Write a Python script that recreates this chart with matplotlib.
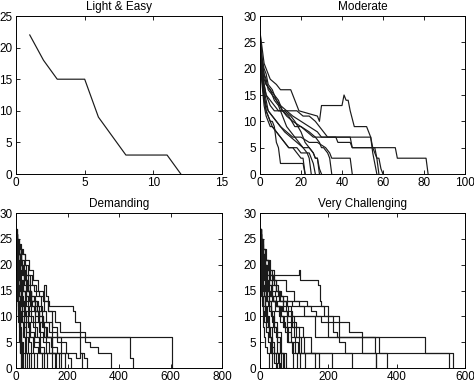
import matplotlib
matplotlib.use('Agg')
import matplotlib.pyplot as plt

###########################################################
# Data (remaining value vs. step)
###########################################################

light_x = [1, 2, 3, 4, 5, 6, 7, 8, 9, 10, 11, 12]
light_y = [22, 18, 15, 15, 15, 9, 6, 3, 3, 3, 3, 0]

moderate_x = [
    [0, 1, 2, 3, 4, 6, 8, 10, 13, 16, 20, 24, 28, 30, 37, 38, 44, 45, 66, 67, 81, 82],
    [0, 1, 2, 3, 5, 8, 10, 15, 16, 17, 19, 28, 29, 30, 40, 41, 42, 43, 44, 46, 52, 53, 54, 55, 56, 57, 58],
    [0, 1, 2, 3, 4, 6, 8, 11, 14, 17, 20, 23, 26, 30, 36, 44, 45, 56, 57, 58, 59, 60],
    [0, 1, 2, 3, 5, 7, 9, 12, 15, 18, 21, 24, 27, 33, 40, 45, 50, 54, 55, 56, 57],
    [0, 1, 2, 3, 4, 6, 8, 10, 13, 16, 20, 24, 28, 32, 34, 35, 36, 44, 45],
    [0, 1, 2, 3, 5, 7, 9, 11, 13, 16, 20, 24, 27, 29, 30, 31, 33, 34, 35],
    [0, 1, 2, 3, 4, 6, 8, 10, 12, 15, 18, 21, 24, 26, 27, 28, 29, 30],
    [0, 1, 2, 3, 4, 5, 7, 9, 12, 15, 17, 20, 22, 24, 26, 27, 28, 29],
    [0, 1, 2, 3, 4, 5, 6, 8, 10, 12, 14, 16, 18, 20, 22, 24, 25, 26, 27],
    [0, 1, 2, 3, 5, 7, 9, 11, 13, 15, 17, 19, 21, 23, 24, 25],
    [0, 1, 2, 3, 4, 5, 6, 7, 8, 9, 10, 14, 18, 21, 22],
    [0, 1, 2, 3, 4, 5, 6, 8, 10, 12, 14, 16, 18, 20, 21, 22],
]
moderate_y = [
    [26, 22, 20, 19, 17, 16, 14, 13, 12, 11, 10, 9, 8, 7, 7, 6, 6, 5, 5, 3, 3, 0],
    [27, 24, 21, 20, 18, 17, 16, 16, 15, 14, 12, 11, 10, 13, 13, 15, 14, 14, 12, 9, 9, 8, 7, 5, 4, 3, 0],
    [25, 21, 19, 18, 16, 15, 14, 12, 11, 9, 9, 8, 7, 7, 7, 7, 5, 5, 3, 3, 1, 0],
    [26, 20, 17, 15, 14, 13, 12, 12, 12, 12, 11, 11, 10, 7, 7, 7, 7, 7, 4, 2, 0],
    [24, 19, 16, 14, 12, 11, 10, 9, 8, 7, 7, 6, 6, 5, 4, 3, 3, 3, 0],
    [27, 22, 19, 17, 16, 15, 14, 12, 11, 10, 9, 8, 7, 6, 5, 5, 4, 3, 0],
    [23, 18, 15, 13, 12, 11, 10, 9, 8, 7, 6, 5, 5, 4, 3, 3, 1, 0],
    [25, 20, 17, 15, 14, 13, 12, 12, 12, 11, 10, 8, 6, 5, 4, 3, 3, 0],
    [26, 19, 15, 12, 11, 10, 9, 8, 7, 6, 5, 5, 5, 4, 4, 4, 3, 2, 0],
    [24, 20, 18, 17, 16, 14, 13, 11, 9, 8, 7, 6, 5, 4, 3, 0],
    [26, 18, 14, 12, 11, 10, 10, 9, 6, 5, 2, 2, 2, 2, 0],
    [22, 17, 13, 11, 10, 9, 9, 8, 7, 6, 5, 5, 4, 3, 3, 0],
]

demanding_x = [
    [0, 5, 10, 18, 25, 35, 45, 60, 75, 90, 105, 120, 607],
    [0, 4, 9, 15, 22, 30, 40, 55, 70, 85, 100, 115, 443, 453],
    [0, 6, 12, 20, 30, 40, 55, 70, 90, 110, 130, 171, 220, 228, 247, 266, 286, 320, 368],
    [0, 5, 10, 18, 28, 40, 55, 70, 85, 100, 108, 118, 125, 140, 160, 175, 200, 212],
    [0, 5, 12, 20, 30, 45, 60, 80, 100, 130, 160, 196, 232, 250, 265, 275],
    [0, 3, 7, 12, 18, 25, 35, 45, 55, 70, 90, 110, 150],
    [0, 2, 5, 9, 14, 20, 28, 38, 50, 65, 80, 95, 120],
    [0, 3, 6, 10, 15, 21, 28, 36, 45, 55, 70, 85, 100],
    [0, 2, 4, 7, 11, 16, 22, 30, 40, 52, 65, 80],
    [0, 2, 5, 8, 12, 17, 23, 30, 38, 48, 60],
    [0, 1, 3, 6, 9, 13, 18, 24, 31, 40, 50],
    [0, 1, 3, 5, 8, 11, 15, 20, 26, 33, 42],
    [0, 1, 2, 4, 6, 9, 12, 16, 21, 27, 35],
    [0, 1, 2, 4, 6, 8, 11, 14, 18, 23, 28],
    [0, 1, 2, 3, 5, 7, 9, 12, 15, 19, 24],
    [0, 1, 2, 3, 4, 6, 8, 10, 13, 16, 20],
    [0, 2, 5, 10, 16, 23, 31, 40, 50, 62, 75, 90, 105, 130, 175],
    [0, 3, 8, 14, 22, 32, 44, 58, 72, 88, 104, 118, 135, 160, 190],
    [0, 4, 10, 16, 24, 34, 46, 60, 75, 90, 110, 140, 165],
    [0, 2, 6, 11, 17, 25, 34, 45, 58, 72, 88, 110],
    [0, 5, 11, 18, 26, 36, 48, 62, 78, 96, 118, 140, 155],
    [0, 6, 14, 24, 36, 50, 66, 84, 104, 125, 150, 170, 250, 258],
    [0, 1, 2, 3, 4, 5, 7, 9, 11, 14, 17, 21],
    [0, 2, 4, 7, 10, 14, 19, 25, 32, 40, 49, 58, 68],
    [0, 3, 7, 12, 18, 26, 35, 46, 60, 75, 95, 115, 140],
]
demanding_y = [
    [27, 25, 23, 21, 19, 17, 15, 13, 11, 10, 8, 6, 0],
    [26, 24, 22, 20, 18, 16, 14, 12, 11, 9, 8, 6, 2, 0],
    [24, 23, 22, 21, 20, 18, 16, 15, 14, 13, 12, 12, 11, 9, 7, 5, 4, 3, 0],
    [25, 23, 22, 20, 18, 16, 14, 13, 12, 11, 16, 14, 11, 8, 6, 3, 2, 0],
    [26, 24, 22, 20, 18, 15, 13, 11, 9, 7, 5, 3, 2, 3, 2, 0],
    [23, 21, 19, 17, 15, 13, 11, 9, 7, 5, 4, 3, 0],
    [27, 25, 23, 21, 19, 17, 15, 12, 10, 8, 6, 3, 0],
    [24, 22, 20, 18, 16, 14, 12, 10, 8, 6, 4, 3, 0],
    [26, 24, 21, 19, 17, 15, 13, 11, 9, 6, 3, 0],
    [22, 20, 18, 16, 14, 12, 10, 8, 6, 3, 0],
    [25, 22, 20, 18, 16, 14, 12, 9, 6, 3, 0],
    [27, 24, 21, 19, 16, 14, 11, 9, 6, 3, 0],
    [21, 19, 17, 15, 13, 11, 9, 7, 5, 3, 0],
    [26, 23, 20, 17, 15, 13, 11, 8, 5, 3, 0],
    [24, 21, 18, 16, 14, 12, 10, 8, 6, 3, 0],
    [23, 20, 17, 15, 13, 11, 9, 7, 5, 3, 0],
    [25, 24, 23, 22, 20, 19, 17, 15, 13, 12, 10, 7, 5, 3, 0],
    [24, 23, 22, 21, 19, 17, 15, 14, 12, 10, 8, 6, 4, 3, 0],
    [26, 24, 22, 20, 19, 17, 15, 13, 11, 9, 6, 3, 0],
    [23, 22, 21, 19, 17, 15, 13, 11, 9, 6, 3, 0],
    [26, 25, 24, 23, 22, 20, 18, 16, 14, 11, 9, 3, 0],
    [25, 24, 23, 22, 21, 19, 17, 15, 13, 11, 9, 7, 3, 0],
    [27, 25, 23, 21, 19, 17, 15, 12, 9, 6, 3, 0],
    [25, 23, 21, 19, 17, 15, 13, 11, 9, 7, 5, 3, 0],
    [21, 19, 18, 17, 16, 15, 14, 13, 11, 9, 6, 3, 0],
]

challenging_x = [
    [0, 3, 7, 12, 18, 25, 35, 48, 62, 80, 100, 130, 161],
    [0, 2, 5, 9, 14, 20, 27, 35, 45, 58, 72, 90, 110, 173],
    [0, 4, 9, 15, 22, 30, 40, 52, 66, 82, 100, 125, 150, 210],
    [0, 3, 8, 14, 25, 113, 117, 171, 176, 180, 186, 215, 225, 336, 340],
    [0, 2, 6, 11, 19, 137, 150, 165, 180, 200, 348, 371],
    [0, 4, 10, 18, 28, 40, 75, 100, 115, 130, 160, 483, 566],
    [0, 3, 7, 12, 18, 26, 36, 48, 62, 78, 95, 112, 160, 200, 260, 300, 340],
    [0, 2, 5, 9, 14, 20, 28, 38, 50, 64, 80, 100, 160, 230, 250, 270],
    [0, 4, 9, 16, 24, 34, 46, 60, 76, 94, 115, 553],
    [0, 1, 3, 5, 8, 11, 15, 20, 26, 33, 41, 50],
    [0, 1, 2, 4, 6, 9, 12, 16, 21, 27, 34, 42, 52, 60],
    [0, 1, 2, 3, 5, 7, 10, 13, 17, 22, 28, 35],
    [0, 2, 4, 7, 10, 14, 19, 25, 32, 40, 50, 62, 75],
    [0, 1, 3, 6, 9, 13, 18, 24, 31, 39, 48, 58, 70, 84],
    [0, 2, 5, 8, 12, 17, 23, 30, 38, 47, 57, 68, 80, 95, 108],
    [0, 1, 2, 3, 4, 6, 8, 10, 13, 16, 20, 25],
    [0, 2, 4, 6, 9, 12, 16, 21, 27, 34, 42, 51, 62],
    [0, 3, 6, 10, 15, 21, 28, 36, 45, 55, 66, 78, 90, 102, 118],
    [0, 1, 3, 5, 7, 10, 14, 19, 25, 32, 40, 46],
    [0, 2, 5, 9, 13, 18, 24, 31, 39, 48, 58, 70, 82, 96],
    [0, 1, 2, 4, 6, 8, 11, 14, 18, 23, 29, 36, 55],
    [0, 3, 7, 11, 16, 22, 29, 37, 46, 56, 67, 79, 92, 106, 120, 131],
    [0, 2, 4, 7, 11, 15, 20, 26, 33, 41, 50, 60, 66],
]
challenging_y = [
    [26, 24, 22, 20, 18, 16, 14, 12, 10, 8, 6, 3, 0],
    [27, 25, 23, 21, 19, 17, 15, 13, 11, 9, 7, 5, 3, 0],
    [25, 24, 22, 21, 19, 18, 16, 14, 12, 10, 8, 6, 3, 0],
    [27, 25, 23, 21, 18, 19, 17, 16, 13, 12, 10, 7, 6, 3, 0],
    [26, 24, 21, 18, 13, 12, 11, 10, 9, 6, 3, 0],
    [27, 25, 23, 21, 19, 17, 15, 13, 12, 10, 6, 3, 0],
    [24, 22, 21, 20, 19, 17, 16, 15, 14, 13, 12, 12, 12, 9, 7, 3, 0],
    [25, 23, 21, 19, 17, 15, 14, 13, 12, 11, 10, 10, 10, 5, 3, 0],
    [26, 25, 23, 21, 19, 17, 15, 13, 11, 8, 3, 0],
    [27, 24, 21, 19, 16, 14, 11, 9, 6, 3, 1, 0],
    [26, 24, 22, 20, 18, 16, 14, 12, 10, 8, 5, 3, 1, 0],
    [25, 22, 19, 17, 15, 13, 11, 9, 7, 5, 3, 0],
    [27, 25, 23, 21, 19, 17, 15, 13, 11, 9, 7, 3, 0],
    [24, 22, 20, 18, 16, 14, 13, 12, 10, 8, 6, 3, 0, 0],
    [26, 24, 22, 20, 18, 16, 15, 14, 13, 12, 10, 8, 5, 3, 0],
    [23, 20, 17, 15, 14, 12, 10, 8, 6, 4, 3, 0],
    [27, 25, 23, 21, 19, 17, 15, 13, 11, 9, 7, 3, 0],
    [25, 24, 22, 21, 20, 18, 17, 15, 14, 13, 11, 9, 6, 3, 0],
    [22, 20, 18, 16, 14, 12, 10, 8, 6, 4, 3, 0],
    [26, 24, 23, 21, 19, 17, 16, 14, 13, 12, 10, 8, 5, 0],
    [25, 22, 20, 18, 16, 15, 14, 12, 10, 8, 6, 3, 0],
    [24, 23, 22, 21, 20, 19, 18, 17, 15, 14, 13, 12, 9, 6, 3, 0],
    [27, 25, 23, 21, 19, 17, 14, 12, 10, 8, 5, 3, 0],
]

###########################################################
# Plot
###########################################################

plt.rcParams['font.family'] = ['Liberation Sans', 'DejaVu Sans']
plt.rcParams['font.size'] = 8.5

line_kw = dict(color='#1a1a1a', linewidth=0.85)

fig = plt.figure(figsize=(4.74, 3.82), dpi=100)
ax1 = fig.add_axes([0.0338, 0.5445, 0.4346, 0.4136])
ax2 = fig.add_axes([0.5485, 0.5445, 0.4325, 0.4136])
ax3 = fig.add_axes([0.0338, 0.0366, 0.4346, 0.4058])
ax4 = fig.add_axes([0.5485, 0.0366, 0.4325, 0.4058])

ax1.plot(light_x, light_y, **line_kw)
ax1.set(xlim=(0, 15), ylim=(0, 25), xticks=[0, 5, 10, 15], yticks=[0, 5, 10, 15, 20, 25])
ax1.set_title('Light & Easy', fontsize=8.5, pad=4)

for xs, ys in zip(moderate_x, moderate_y):
    ax2.plot(xs, ys, **line_kw)
ax2.set(xlim=(0, 100), ylim=(0, 30), xticks=[0, 20, 40, 60, 80, 100], yticks=[0, 5, 10, 15, 20, 25, 30])
ax2.set_title('Moderate', fontsize=8.5, pad=4)

for xs, ys in zip(demanding_x, demanding_y):
    ax3.plot(xs, ys, drawstyle='steps-post', **line_kw)
ax3.set(xlim=(0, 800), ylim=(0, 30), xticks=[0, 200, 400, 600, 800], yticks=[0, 5, 10, 15, 20, 25, 30])
ax3.set_title('Demanding', fontsize=8.5, pad=4)

for xs, ys in zip(challenging_x, challenging_y):
    ax4.plot(xs, ys, drawstyle='steps-post', **line_kw)
ax4.set(xlim=(0, 600), ylim=(0, 30), xticks=[0, 200, 400, 600], yticks=[0, 5, 10, 15, 20, 25, 30])
ax4.set_title('Very Challenging', fontsize=8.5, pad=4)

for ax in (ax1, ax2, ax3, ax4):
    ax.tick_params(direction='in', length=3, width=0.6, top=True, right=True,
                   labelsize=8.5, pad=2.5)
    for s in ax.spines.values():
        s.set_linewidth(0.7)

plt.savefig('out.png', dpi=100)
